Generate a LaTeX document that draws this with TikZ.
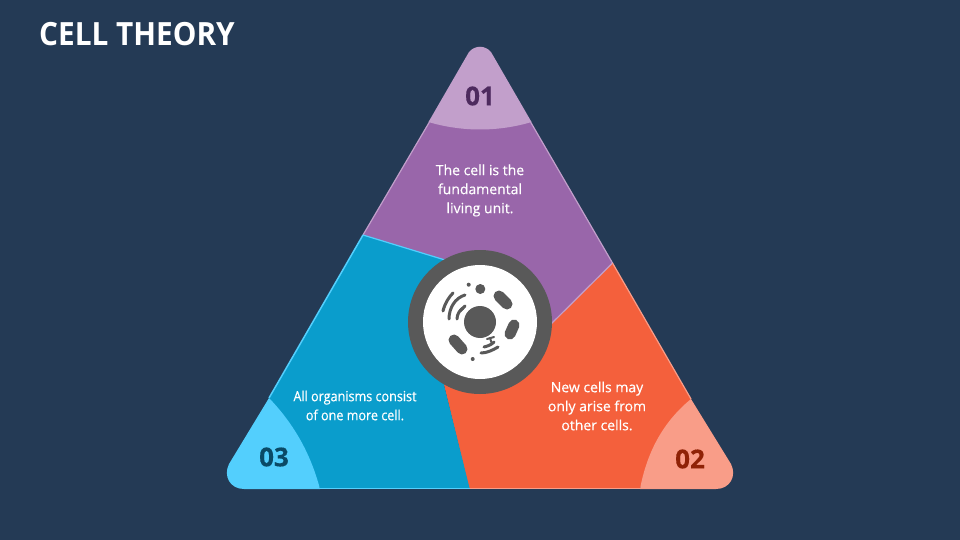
\documentclass[tikz,border=0pt]{standalone}
\usepackage{fontspec}
\setmainfont{Open Sans}[FakeBold=0.35]
\newfontfamily\titlefont{Open Sans}[FakeStretch=0.93]
\newfontfamily\narrowfont{Open Sans}[FakeBold=0.35,FakeStretch=0.9]
\usepackage{tikz}

\definecolor{slidebg}{HTML}{243A55}
\definecolor{purplepart}{HTML}{9966AA}
\definecolor{purpletip}{HTML}{C29FCB}
\definecolor{purpletext}{HTML}{4D2A5E}
\definecolor{orangepart}{HTML}{F4603C}
\definecolor{orangetip}{HTML}{F99D88}
\definecolor{orangetext}{HTML}{8F2206}
\definecolor{bluepart}{HTML}{0A9DCC}
\definecolor{bluetip}{HTML}{53CFFD}
\definecolor{bluetext}{HTML}{0A4A66}
\definecolor{cellgray}{HTML}{595959}

\tikzset{
  bodytext/.style={text=white,align=center,font=\fontsize{14}{19}\selectfont},
  tiptext/.style={font=\fontsize{26}{30}\selectfont\bfseries},
  organelle/.style={draw=cellgray,line cap=round,line width=3pt},
  capsule/.style={draw=cellgray,line cap=round,line width=11pt}
}

\begin{document}
\begin{tikzpicture}[x=1pt,y=-1pt]
      \useasboundingbox (0,0) rectangle (960,540);
      \fill[slidebg] (0,0) rectangle (960,540);

      \node[anchor=west,text=white,font=\titlefont\bfseries\fontsize{32}{36}\selectfont,inner sep=0pt] (title) at (39,34) {CELL THEORY};

      % the three parts
      \fill[orangepart] (612.5,263) -- (691,399) -- (640,488) -- (469,488) -- (444,385) -- (480,322) -- (552,322) -- cycle;
      \fill[bluepart] (363,235) -- (445,260) -- (480,322) -- (444,385) -- (469.5,488) -- (320,488) -- (269,398) -- cycle;
      \fill[purplepart] (430,121) -- (530,121) -- (612.5,263) -- (545,330) -- (480,322) -- (445,260) -- (363,235) -- cycle;

      % lighter outer edges
      \draw[purpletip,line width=1.2pt] (430,121) -- (363,235);
      \draw[purpletip,line width=1.2pt] (530,121) -- (612.5,263) -- (545,330);
      \draw[orangetip,line width=1.2pt] (612.5,263) -- (691,399);
      \draw[orangetip,line width=1pt] (469.5,488) -- (640,488);
      \draw[bluetip,line width=1.5pt] (363,235) -- (269,398);
      \draw[bluetip,line width=1pt] (320,488) -- (469.5,488);
      \draw[bluetip,line width=1.2pt] (363,235) -- (445,260);

      % the three tips
      \fill[purpletip] (428.5,122) .. controls (445,127) and (463,129.5) .. (480,129.5) .. controls (497,129.5) and (515,127) .. (531.5,122)
        -- (491,52) .. controls (485,45) and (475,45) .. (469,52) -- cycle;
      \fill[orangetip] (691,399) .. controls (663,422) and (647,452) .. (640,489) -- (716,489)
        .. controls (730,489) and (737,476) .. (731,464) -- cycle;
      \fill[bluetip] (269,398) .. controls (295,425) and (311,455) .. (320,489) -- (244,489)
        .. controls (230,489) and (223,476) .. (229,464) -- cycle;

      \node[tiptext,text=purpletext] (one) at (480,96) {01};
      \node[tiptext,text=orangetext] (two) at (690,459) {02};
      \node[tiptext,text=bluetext] (three) at (274,457) {03};

      \node[bodytext] (first) at (480,190.5) {The cell is the\\fundamental\\living unit.};
      \node[bodytext] (second) at (597,406) {New cells may\\only arise from\\other cells.};
      \node[bodytext,font=\narrowfont\fontsize{14}{19}\selectfont] (third) at (355,405.5) {All organisms consist\\of one more cell.};

      % cell icon
      \fill[cellgray] (480,322) circle (72);
      \fill[white] (480,322) circle (57);
      \fill[cellgray] (480,322) circle (16);
      \fill[cellgray] (480.3,289) circle (5);
      \fill[cellgray] (468.7,284.7) circle (2);
      \fill[cellgray] (472.7,359) circle (2);
      \draw[capsule] (499,296) -- (507,304);
      \draw[capsule] (514,325) -- (510,334);
      \draw[capsule] (454,340) -- (462,349);
      \draw[organelle] (443,311) .. controls (445,303) and (449,297) .. (453,293);
      \draw[organelle] (449,319) .. controls (449,308) and (455,298) .. (465,295);
      \draw[organelle] (457,319) .. controls (457,314) and (460,310) .. (463,308);
      \draw[organelle] (460,311) -- (465,306);
      \draw[organelle] (481,353) .. controls (487,353) and (493,350) .. (498,347);
      \draw[organelle] (484,347) .. controls (488,346) and (491,345) .. (494,342);
      \draw[organelle,line width=2pt] (490,338) -- (492,344);
      \draw[organelle,line width=2pt] (487,339) -- (494,337);
    \end{tikzpicture}
\end{document}
